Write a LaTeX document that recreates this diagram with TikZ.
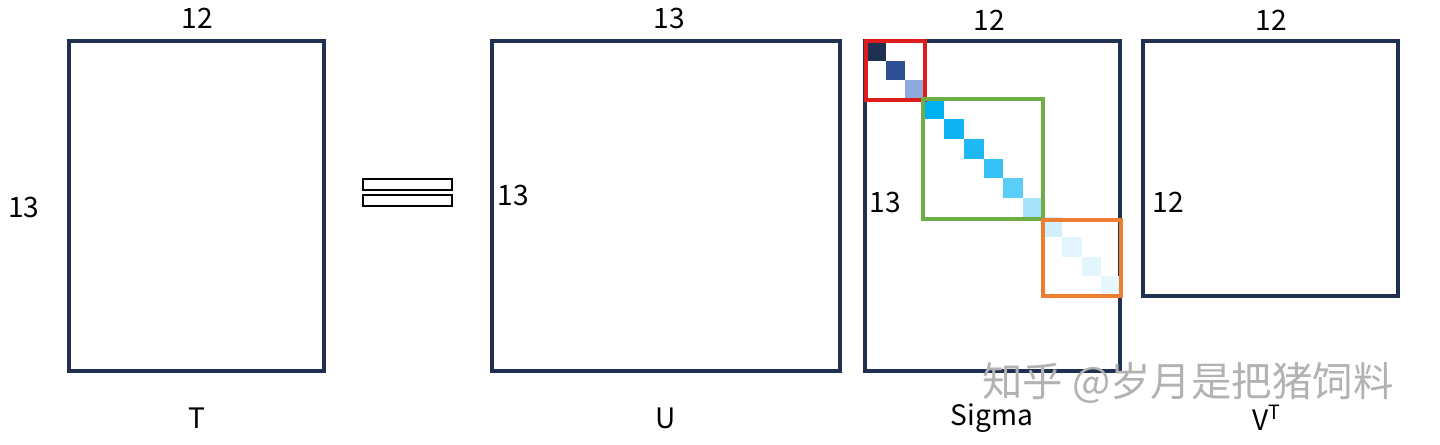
\documentclass[tikz,border=0pt]{standalone}
\usepackage{fontspec}
\setmainfont{Noto Sans CJK SC}
\usepackage{tikz}

\definecolor{navy}{HTML}{1F3050}
\definecolor{boxred}{HTML}{DD1C1C}
\definecolor{boxgreen}{HTML}{70AD47}
\definecolor{boxorange}{HTML}{ED7D31}

\begin{document}
\begin{tikzpicture}[x=0.02cm, y=-0.02cm,
  matbox/.style = {draw=navy, line width=0.7mm},
  block/.style = {line width=0.8mm},
  label/.style = {font=\fontsize{16}{18}\selectfont, inner sep=0pt},
  eqbar/.style = {draw=black, line width=0.55mm}
  ]
  \useasboundingbox (0,0) rectangle (1440,445);

  % matrices
  \draw[matbox] (69,41) rectangle (324,371);
  \draw[matbox] (492,41) rectangle (840,371);
  \draw[matbox] (865,41) rectangle (1120,371);
  \draw[matbox] (1143,41) rectangle (1398,296);

  % equals sign
  \draw[eqbar] (363,179) rectangle (452,190);
  \draw[eqbar] (363,195) rectangle (452,206);

  % singular values on the diagonal
  \foreach \col [count=\i from 0] in
    {1F3050,2F5095,8EA9DB,00B0F0,0EB4F3,1EB9F4,38C1F6,5ACDF8,
     A6E2FA,CFF0FC,E0F5FD,E4F6FD,E6F7FD}{
    \definecolor{cell}{HTML}{\col}
    \fill[cell] ({866+19.6*\i},{41+19.6*\i}) rectangle ++(19.6,19.6);
  }

  % groups
  \draw[block, boxred] (866,41) rectangle (925,100);
  \draw[block, boxgreen] (923,99) rectangle (1043,219);
  \draw[block, boxorange] (1043,220) rectangle (1121,296);

  % labels
  \node[label] (Tcols) at (197,18) {12};
  \node[label] (Trows) at (24,207) {13};
  \node[label] (Tname) at (197,418) {T};
  \node[label] (Ucols) at (669,18) {13};
  \node[label] (Urows) at (513,195) {13};
  \node[label] (Uname) at (666,418) {U};
  \node[label] (Scols) at (989,20) {12};
  \node[label] (Srows) at (885,202) {13};
  \node[label] (Sname) at (992,418) {Sigma};
  \node[label] (Vcols) at (1271,20) {12};
  \node[label] (Vrows) at (1168,202) {12};
  \node[label] (Vname) at (1267,418) {V\textsuperscript{T}};

  % watermark
  \node[font=\fontsize{23}{25}\selectfont, text=black!30, inner sep=0pt]
    (mark) at (1188,383) {知乎\ @岁月是把猪饲料};
\end{tikzpicture}
\end{document}
